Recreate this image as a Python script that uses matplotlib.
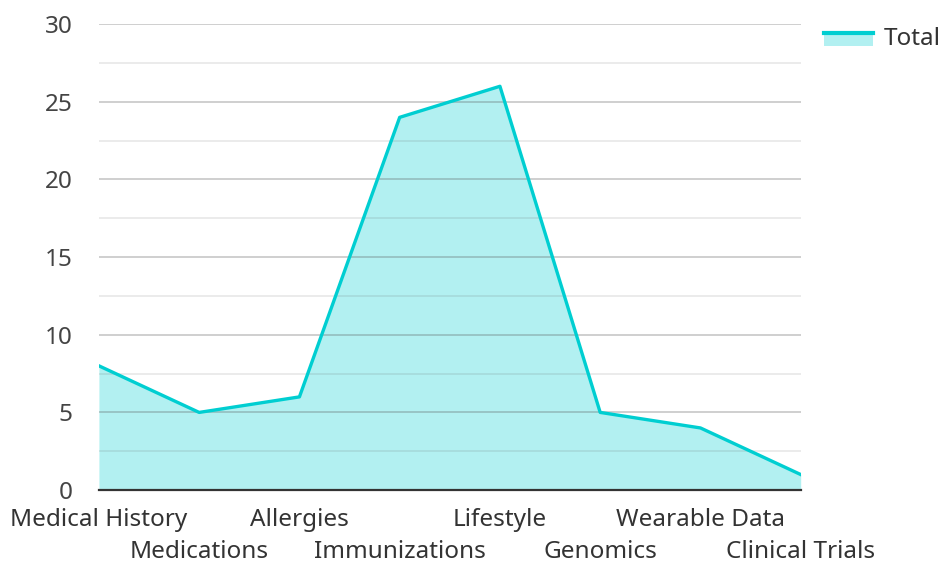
import matplotlib.pyplot as plt
from matplotlib.legend_handler import HandlerBase
from matplotlib.patches import Rectangle
from matplotlib.lines import Line2D

plt.rcParams['font.family'] = ['Noto Sans', 'DejaVu Sans']

categories = ["Medical History", "Medications", "Allergies", "Immunizations", "Lifestyle",
              "Genomics", "Wearable Data", "Clinical Trials"]
total = [8, 5, 6, 24, 26, 5, 4, 1]

line_color = "#00CED1"
fill_color = "#B2F0F1"


class FillLineHandler(HandlerBase):
    # filled patch with the line sitting on its top edge
    def create_artists(self, legend, orig, xd, yd, w, h, fontsize, trans):
        top = yd + h * 0.8
        p = Rectangle((xd, yd), w, h * 0.8, fc=fill_color, ec="none", transform=trans)
        l = Line2D([xd, xd + w], [top, top], color=line_color, lw=3, transform=trans)
        return [p, l]


fig = plt.figure(figsize=(9.42, 5.62), dpi=100)
ax = fig.add_axes([0.105, 0.128, 0.745, 0.829])

x = list(range(len(categories)))
ax.fill_between(x, total, 0, color=fill_color, lw=0, zorder=1)
ax.plot(x, total, color=line_color, lw=2.4, zorder=3)

ax.set_xlim(0, len(categories) - 1)
ax.set_ylim(0, 30)
ax.set_yticks(range(0, 31, 5))
ax.set_yticks([2.5 + 5 * i for i in range(6)], minor=True)
ax.grid(axis="y", which="major", color="#555555", alpha=0.3, lw=1.3, zorder=2)
ax.grid(axis="y", which="minor", color="#555555", alpha=0.13, lw=1.3, zorder=2)
ax.set_axisbelow(False)

ax.set_xticks(x)
ax.set_xticklabels(categories, fontsize=17.5, color="#333333")
ax.tick_params(axis="x", length=0, pad=13)
# stagger: every other label on a second row
for i, t in enumerate(ax.xaxis.get_major_ticks()):
    if i % 2 == 1:
        t.set_pad(36)
ax.tick_params(axis="y", which="both", length=0, pad=19, labelsize=17.5, labelcolor="#444444")

for s in ["top", "right", "left"]:
    ax.spines[s].set_visible(False)
ax.spines["bottom"].set_color("#333333")
ax.spines["bottom"].set_linewidth(1.6)
ax.spines["bottom"].set_zorder(4)

fig.legend([object()], ["Total"], handler_map={object: FillLineHandler()},
           loc="upper left", bbox_to_anchor=(0.875, 0.952), frameon=False,
           fontsize=17.5, handlelength=2.0, handleheight=0.6, handletextpad=0.45,
           borderpad=0, borderaxespad=0, labelcolor="#333333")

fig.savefig("out.png", dpi=100)
